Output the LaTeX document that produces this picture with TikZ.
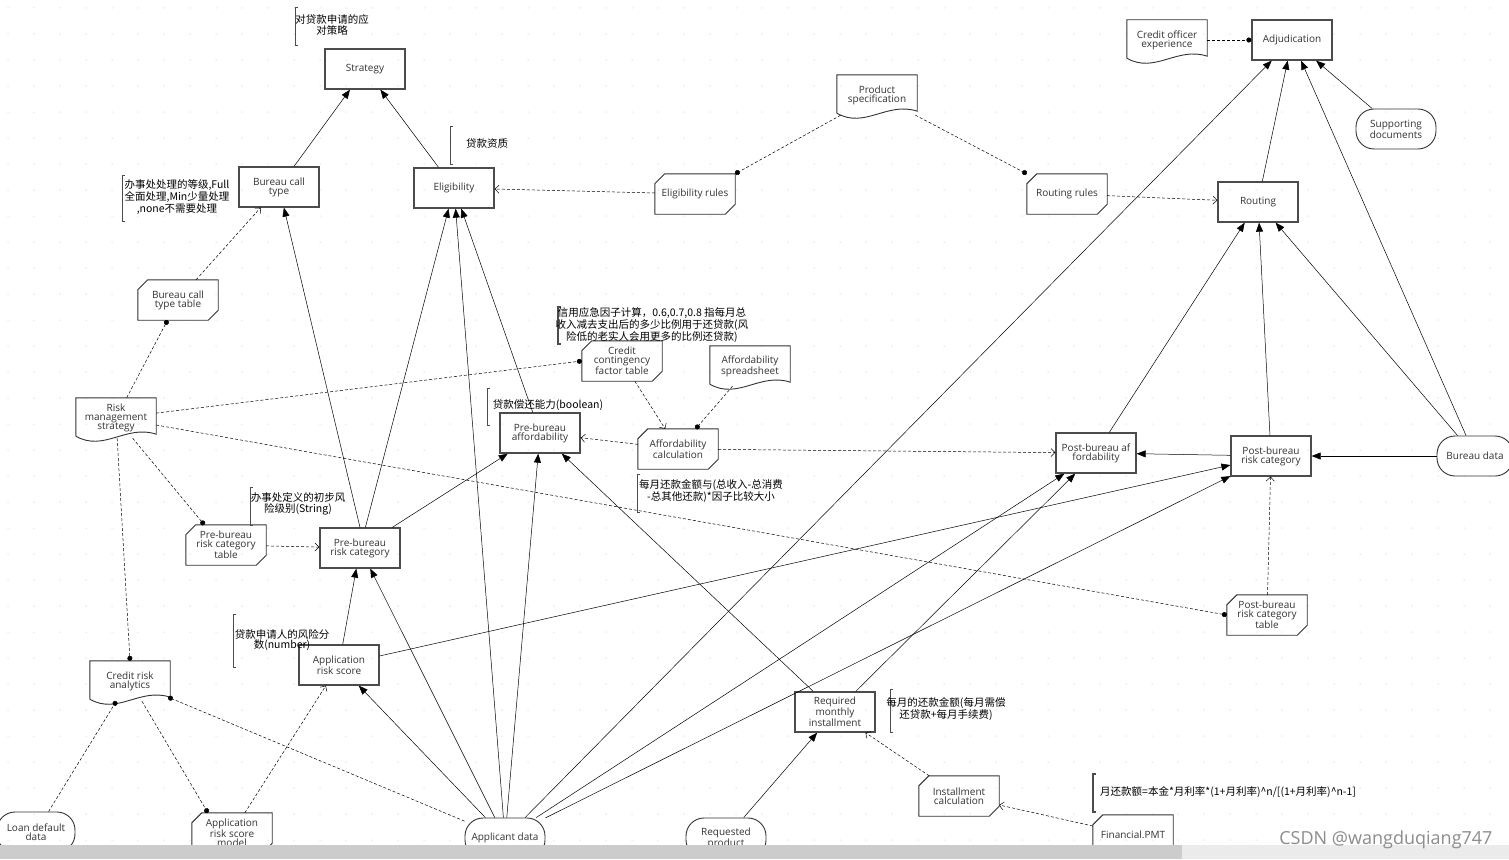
\documentclass[tikz,border=0pt]{standalone}
\usepackage{fontspec}
\setmainfont{Open Sans}
\newfontfamily\cjk{Noto Sans CJK SC}
\usetikzlibrary{arrows.meta,calc}
\begin{document}
\begin{tikzpicture}[x=1pt,y=-1pt,
  lab/.style={font=\fontsize{10}{9}\selectfont, align=center, text=black!80, inner sep=0pt},
  dec/.style={draw=black!70, line width=1.3pt, minimum width=80pt, minimum height=40pt, lab},
  box/.style={minimum width=80pt, minimum height=40pt, lab},
  inp/.style={draw=black!80, line width=0.9pt, rounded corners=18pt, minimum width=80pt, minimum height=40pt, lab},
  shp/.style={draw=black!80, line width=0.9pt},
  info/.style={draw=black, line width=0.5pt, -{Triangle[length=9pt,width=7pt]}},
  know/.style={draw=black, line width=0.5pt, dashed, dash pattern=on 3pt off 2pt, -{Straight Barb[length=4pt,width=8pt]}},
  auth/.style={draw=black, line width=0.5pt, dashed, dash pattern=on 3pt off 2pt, -{Circle[length=5pt]}},
  ann/.style={font=\cjk\fontsize{10.5}{9}\selectfont, align=center, inner sep=0pt, text=black},
  br/.style={draw=black!70, line width=0.9pt}
]
\useasboundingbox (0,0) rectangle (1509,859);
\fill[white] (0,0) rectangle (1509,859);
% dotted grid
\foreach \i in {0,...,58}{\foreach \j in {0,...,33}{\fill[black!30] (\i*26+8,\j*26+8) circle (0.5pt);}}

\newcommand\bkm[3]{\node[box] (#1) at (#2) {#3};
  \draw[shp] ($(#1.north west)+(10,0)$) -- (#1.north east) -- ($(#1.south east)+(0,-10)$) -- ($(#1.south east)+(-10,0)$) -- (#1.south west) -- ($(#1.north west)+(0,10)$) -- cycle;}
\newcommand\ks[3]{\node[box] (#1) at (#2) {#3};
  \draw[shp] ($(#1.south west)+(0,-2)$) -- (#1.north west) -- (#1.north east) -- ($(#1.south east)+(0,-4)$)
   .. controls ($(#1.south east)+(-30,-14)$) and ($(#1.south west)+(28,14)$) .. ($(#1.south west)+(0,-2)$);}

% decisions
\node[dec] (strategy) at (365,69) {Strategy};
\node[dec] (bct) at (279,187) {Bureau call\\type};
\node[dec] (elig) at (454,188) {Eligibility};
\node[dec] (adj) at (1292,40) {Adjudication};
\node[dec] (routing) at (1258,202) {Routing};
\node[dec] (pba) at (540,433) {Pre-bureau\\affordability};
\node[dec] (poba) at (1096,453) {Post-bureau af\\fordability};
\node[dec] (porc) at (1271,456) {Post-bureau\\risk category};
\node[dec] (prc) at (360,548) {Pre-bureau\\risk category};
\node[dec] (ars) at (339,665) {Application\\risk score};
\node[dec] (rmi) at (835,712) {Required\\monthly\\installment};

% BKMs
\bkm{er}{695,194}{Eligibility rules}
\bkm{rr}{1067,194}{Routing rules}
\bkm{bctt}{178,300}{Bureau call\\type table}
\bkm{ccft}{622,361}{Credit\\contingency\\factor table}
\bkm{ac}{678,449}{Affordability\\calculation}
\bkm{prct}{226,545}{Pre-bureau\\risk category\\table}
\bkm{porct}{1267,615}{Post-bureau\\risk category\\table}
\bkm{ic}{959,796}{Installment\\calculation}
\bkm{arsm}{232,833}{Application\\risk score\\model}
\bkm{pmt}{1133,835}{Financial.PMT}

% knowledge sources
\ks{ps}{877,95}{Product\\specification}
\ks{coe}{1167,40}{Credit officer\\experience}
\ks{rms}{116,418}{Risk\\management\\strategy}
\ks{as}{750,366}{Affordability\\spreadsheet}
\ks{cra}{130,681}{Credit risk\\analytics}

% input data
\node[inp] (sd) at (1396,129) {Supporting\\documents};
\node[inp, minimum width=76pt] (bd) at (1475,456) {Bureau data};
\node[inp, minimum width=78pt] (ldd) at (36,832) {Loan default\\data};
\node[inp] (ad) at (505,838) {Applicant data};
\node[inp] (rp) at (726,838) {Requested\\product};

% information requirements
\draw[info] (bct) -- (strategy);
\draw[info] (elig) -- (strategy);
\draw[info] (prc.north) -- (bct);
\draw[info] (prc) -- (elig);
\draw[info] (pba) -- (elig);
\draw[info] (ad) -- (elig);
\draw[info] (prc) -- (pba);
\draw[info] (ad) -- (pba);
\draw[info] (rmi) -- (pba);
\draw[info] (ars) -- (prc);
\draw[info] (ad) -- (prc);
\draw[info] (ad) -- (ars);
\draw[info] (ad) -- (adj);
\draw[info] (ad) -- (poba);
\draw[info] (ad) -- (porc);
\draw[info] (ars) -- (porc);
\draw[info] (rp) -- (rmi);
\draw[info] (rmi) -- (poba);
\draw[info] (porc) -- (poba);
\draw[info] (bd) -- (porc);
\draw[info] (poba) -- (routing);
\draw[info] (porc) -- (routing);
\draw[info] (bd) -- (routing);
\draw[info] (bd) -- (adj);
\draw[info] (routing) -- (adj);
\draw[info] (sd) -- (adj);

% knowledge requirements
\draw[know] (er) -- (elig);
\draw[know] (rr) -- (routing);
\draw[know] (bctt) -- (bct);
\draw[know] (ccft) -- (ac);
\draw[know] (ac) -- (pba);
\draw[know] (ac) -- (poba);
\draw[know] (prct) -- (prc);
\draw[know] (porct) -- (porc);
\draw[know] (arsm) -- (ars);
\draw[know] (ic) -- (rmi);
\draw[know] (pmt) -- (ic);

% authority requirements
\draw[auth] (ps) -- (er.north east);
\draw[auth] (ps) -- (rr.north west);
\draw[auth] (rms) -- ($(bctt.south west)!0.37!(bctt.south east)$);
\draw[auth] (rms) -- (ccft.west);
\draw[auth] (rms) -- ($(prct.north west)!0.23!(prct.north east)$);
\draw[auth] (rms) -- (porct.west);
\draw[auth] (rms) -- (cra.north);
\draw[auth] (as) -- ($(ac.north west)!0.72!(ac.north east)$);
\draw[auth] (coe) -- (adj.west);
\draw[auth] (ldd) -- ($(cra.south west)!0.33!(cra.south east)$);
\draw[auth] (cra) -- ($(arsm.north west)!0.2!(arsm.north east)$);
\draw[auth] (ad) -- ($(cra.south east)+(-2,-4)$);

% annotations
\draw[br] (298,7) -- (295,7) -- (295,45) -- (298,45);
\node[ann] (a1) at (332,25) {对贷款申请的应\\对策略};
\draw[br] (453,126) -- (450,126) -- (450,164) -- (453,164);
\node[ann] (a2) at (487,144) {贷款资质};
\draw[br] (125,175) -- (122,175) -- (122,221) -- (125,221);
\node[ann] (a3) at (177,197) {办事处处理的等级,Full\\全面处理,Min少量处理\\,none不需要处理};
\draw[br, line width=1.3pt] (561,307) -- (558,307) -- (558,344) -- (561,344);
\node[ann] (a4) at (652,325) {信用应急因子计算，0.6,0.7,0.8 指每月总\\收入减去支出后的多少比例用于还贷款(风\\险低的老实人会用更多的比例还贷款)};
\draw[br] (490,388) -- (487,388) -- (487,425) -- (490,425);
\node[ann] (a5) at (548,405) {贷款偿还能力(boolean)};
\draw[br] (640,474) -- (637,474) -- (637,512) -- (640,512);
\node[ann] (a6) at (711,491) {每月还款金额与(总收入-总消费\\-总其他还款)*因子比较大小};
\draw[br] (253,487) -- (250,487) -- (250,525) -- (253,525);
\node[ann] (a7) at (298,504) {办事处定义的初步风\\险级别(String)};
\draw[br] (236,614) -- (233,614) -- (233,667) -- (236,667);
\node[ann] (a8) at (282,640) {贷款申请人的风险分\\数(number)};
\draw[br] (893,689) -- (890,689) -- (890,732) -- (893,732);
\node[ann] (a9) at (946,709) {每月的还款金额(每月需偿\\还贷款+每月手续费)};
\draw[br, line width=1.3pt] (1096,774) -- (1093,774) -- (1093,812) -- (1096,812);
\node[ann, anchor=west] (a10) at (1100,792) {月还款额=本金*月利率*(1+月利率)\^{}n/[(1+月利率)\^{}n-1]};

% bottom bar and watermark
\fill[black!20] (0,845) rectangle (1182,859);
\fill[black!8] (1182,845) rectangle (1509,859);
\node[font=\fontsize{18}{18}\selectfont, text=black!45, anchor=east] (wm) at (1496,840) {CSDN @wangduqiang747};
\end{tikzpicture}
\end{document}
